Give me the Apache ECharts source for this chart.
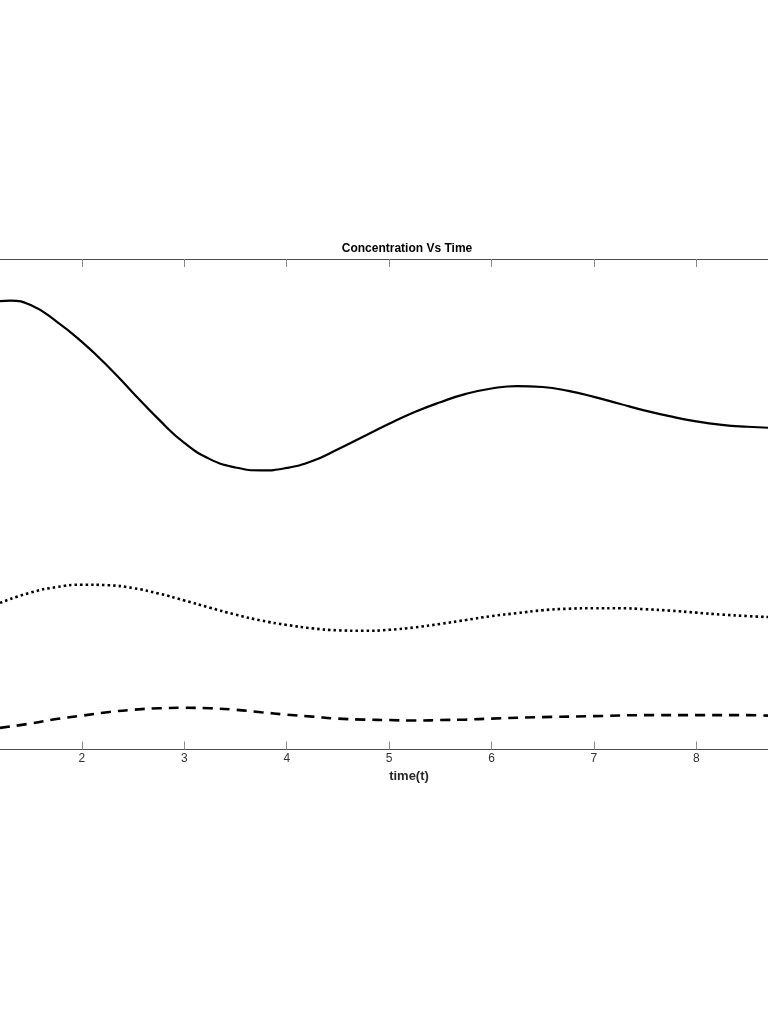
<!DOCTYPE html>
<html>
<head>
<meta charset="utf-8">
<script src="https://cdn.jsdelivr.net/npm/echarts@6/dist/echarts.min.js"></script>
<style>html,body{margin:0;padding:0;background:#fff}#c{width:768px;height:1024px}</style>
</head>
<body>
<div id="c"></div>
<script>
const titleText = 'Concentration Vs Time';
const xLabelText = 'time(t)';
const xTicks = [2, 3, 4, 5, 6, 7, 8];

// Solid curve [t, value]
const solidData = [
  [1.20, 0.914], [1.30, 0.915], [1.50, 0.906], [1.75, 0.873], [2.00, 0.831],
  [2.25, 0.782], [2.50, 0.727], [2.75, 0.673], [3.00, 0.625], [3.25, 0.592],
  [3.50, 0.575], [3.75, 0.569], [4.00, 0.574], [4.25, 0.588], [4.50, 0.612],
  [4.75, 0.638], [5.00, 0.664], [5.25, 0.688], [5.50, 0.708], [5.75, 0.725],
  [6.00, 0.736], [6.25, 0.741], [6.50, 0.739], [6.75, 0.731], [7.00, 0.719],
  [7.25, 0.705], [7.50, 0.691], [7.75, 0.679], [8.00, 0.669], [8.25, 0.662],
  [8.50, 0.658], [8.70, 0.656]
];
// Dotted curve
const dottedData = [
  [1.20, 0.299], [1.50, 0.320], [1.75, 0.331], [2.00, 0.336], [2.25, 0.335],
  [2.50, 0.329], [2.75, 0.318], [3.00, 0.304], [3.25, 0.289], [3.50, 0.275],
  [3.75, 0.263], [4.00, 0.254], [4.25, 0.247], [4.50, 0.243], [4.75, 0.242],
  [5.00, 0.244], [5.25, 0.249], [5.50, 0.256], [5.75, 0.264], [6.00, 0.272],
  [6.25, 0.278], [6.50, 0.284], [6.75, 0.287], [7.00, 0.288], [7.25, 0.288],
  [7.50, 0.286], [7.75, 0.283], [8.00, 0.279], [8.25, 0.275], [8.50, 0.272],
  [8.70, 0.270]
];
// Dashed curve
const dashedData = [
  [1.20, 0.044], [1.50, 0.053], [1.75, 0.062], [2.00, 0.069], [2.25, 0.076],
  [2.50, 0.081], [2.75, 0.084], [3.00, 0.085], [3.25, 0.084], [3.50, 0.081],
  [3.75, 0.076], [4.00, 0.071], [4.25, 0.067], [4.50, 0.063], [4.75, 0.061],
  [5.00, 0.060], [5.25, 0.059], [5.50, 0.060], [5.75, 0.061], [6.00, 0.063],
  [6.50, 0.066], [7.00, 0.068], [7.50, 0.070], [8.00, 0.070], [8.50, 0.070],
  [8.70, 0.069]
];

const chart = echarts.init(document.getElementById('c'), null, {renderer: 'canvas'});
const axisBase = {
  type: 'value', min: 1.2, max: 8.7,
  splitLine: {show: false},
  axisLine: {show: true, lineStyle: {color: '#4d4d4d', width: 1}}
};
chart.setOption({
  backgroundColor: '#ffffff',
  animation: false,
  grid: {left: 0, right: 0, top: 259, bottom: 274.5, containLabel: false},
  xAxis: [
    Object.assign({}, axisBase, {
      position: 'bottom',
      axisTick: {show: true, inside: true, length: 8, customValues: xTicks, lineStyle: {color: '#8a8a8a'}},
      axisLabel: {show: true, customValues: xTicks, margin: 3, color: '#333333', fontSize: 12, fontFamily: 'Liberation Sans, Arial, sans-serif'}
    }),
    Object.assign({}, axisBase, {
      position: 'top',
      axisTick: {show: true, inside: true, length: 8, customValues: xTicks, lineStyle: {color: '#8a8a8a'}},
      axisLabel: {show: false}
    })
  ],
  yAxis: {type: 'value', min: 0, max: 1, show: false},
  graphic: [
    {type: 'text', x: 407, y: 249, style: {text: titleText, font: 'bold 12px "Liberation Sans", Arial, sans-serif', fill: '#000', align: 'center', verticalAlign: 'middle'}},
    {type: 'text', x: 409, y: 776, style: {text: xLabelText, font: 'bold 13px "Liberation Sans", Arial, sans-serif', fill: '#262626', align: 'center', verticalAlign: 'middle'}}
  ],
  series: [
    {type: 'line', data: solidData, smooth: 0.5, showSymbol: false, clip: true,
     lineStyle: {color: '#000', width: 2.2, type: 'solid'}},
    {type: 'line', data: dottedData, smooth: 0.5, showSymbol: false, clip: true,
     lineStyle: {color: '#000', width: 2.6, type: [2.5, 3]}},
    {type: 'line', data: dashedData, smooth: 0.5, showSymbol: false, clip: true,
     lineStyle: {color: '#000', width: 2.6, type: [10, 7]}}
  ]
});
</script>
</body>
</html>
